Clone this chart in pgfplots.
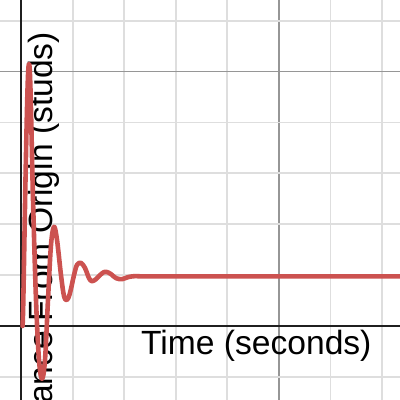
\documentclass[border=0pt]{standalone}
\usepackage{pgfplots}
\pgfplotsset{compat=1.18}
\usepackage{fontspec}
\setmainfont{Liberation Sans}
\definecolor{curvered}{RGB}{204,82,80}
\definecolor{minorgrid}{RGB}{222,222,222}
\definecolor{majorgrid}{RGB}{150,150,150}
\begin{document}
\begin{tikzpicture}
\useasboundingbox (0,0) rectangle (400pt,400pt);
\clip (0,0) rectangle (400pt,400pt);
\begin{axis}[
  at={(0,0)}, anchor=south west,
  scale only axis, width=400pt, height=400pt,
  xmin=-0.407, xmax=7.345, ymin=-1.454, ymax=6.405,
  axis lines=middle,
  axis line style={-, draw=black!88, line width=2.6pt},
  xtick={0,5}, minor xtick={-1,1,2,3,4,6,7},
  ytick={0,5}, minor ytick={-1,1,2,3,4,6},
  xticklabels={}, yticklabels={},
  major tick length=0pt, minor tick length=0pt,
  grid=both,
  minor grid style={draw=minorgrid, line width=1.8pt},
  major grid style={draw=majorgrid, line width=1.8pt},
  clip=false,
]
\node[rotate=90, anchor=base east, inner sep=0pt, font=\fontsize{33.6}{38}\selectfont]
  at (rel axis cs:0.13,0.92) {Distance From Origin (studs)};
\node[anchor=base west, inner sep=0pt, font=\fontsize{33.6}{38}\selectfont]
  at (rel axis cs:0.3525,0.1125) {Time (seconds)};
\addplot[curvered, line width=4.6pt, smooth, tension=0.55, line cap=round, line join=round] coordinates {
  (0.03,0) (0.045,0.51) (0.087,2.87) (0.126,4.64) (0.155,5.15) (0.184,4.64)
  (0.233,2.48) (0.291,0.51) (0.349,-0.67) (0.407,-1.04) (0.465,-0.67)
  (0.523,0.51) (0.581,1.59) (0.640,1.95) (0.698,1.69) (0.775,1.00)
  (0.833,0.59) (0.891,0.51) (0.950,0.65) (1.027,1.00) (1.085,1.20)
  (1.163,1.24) (1.240,1.14) (1.318,0.94) (1.376,0.88) (1.453,0.92)
  (1.531,1.00) (1.609,1.06) (1.667,1.06) (1.744,1.02) (1.841,0.94)
  (1.957,0.92) (2.074,0.96) (2.209,0.98) (2.403,0.975) (3.5,0.975)
  (5.0,0.975) (7.5,0.975)
};
\end{axis}
\end{tikzpicture}
\end{document}
